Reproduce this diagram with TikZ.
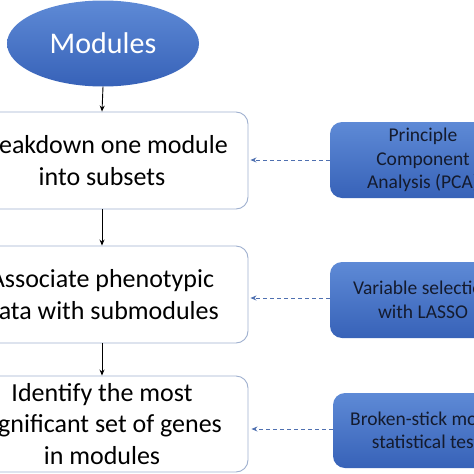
\documentclass[tikz,border=0pt]{standalone}
\usepackage{fontspec}
\setmainfont{Carlito}
\usetikzlibrary{arrows.meta,shapes.geometric}
\definecolor{offblue}{HTML}{4472C4}
\definecolor{lightblue}{HTML}{5E8AD6}
\definecolor{darkblue}{HTML}{3762B8}
\definecolor{boxedge}{HTML}{9FB0CF}
\definecolor{dashblue}{HTML}{4F70B0}
\definecolor{navytext}{HTML}{141B2E}
\tikzset{
  stepbox/.style={draw=boxedge, line width=0.9pt, rounded corners=12pt, fill=white,
    minimum width=292pt, minimum height=97pt, inner sep=0pt, align=center,
    font=\fontsize{26}{31.5}\selectfont, text=black},
  methodbox/.style={draw=none, rounded corners=12pt, top color=lightblue, bottom color=darkblue,
    minimum width=186pt, minimum height=76pt, inner sep=0pt, align=center,
    font=\fontsize{19.5}{23.5}\selectfont, text=navytext},
  flow/.style={black, line width=0.9pt, -{Stealth[length=6pt,width=5pt]}},
  hint/.style={dashblue, line width=0.9pt, dash pattern=on 4pt off 3pt, -{Stealth[length=6pt,width=5pt]}},
}
\begin{document}
\begin{tikzpicture}[x=1pt,y=-1pt]
\useasboundingbox (0,0) rectangle (474,474);
\clip (0,0) rectangle (474,474);
\node[ellipse, top color=lightblue, bottom color=darkblue, minimum width=192pt, minimum height=86pt,
  inner sep=0pt, text=white, font=\fontsize{30}{36}\selectfont] (mod) at (103,43.5) {Modules};
\node[stepbox] (b1) at (102,160.5) {Breakdown one module\\into subsets};
\node[stepbox] (b2) at (102,294.5) {Associate phenotypic\\data with submodules};
\node[stepbox, minimum height=96pt] (b3) at (102,424) {Identify the most\\significant set of genes\\in modules};
\node[methodbox] (r1) at (423,160) {Principle\\Component\\Analysis (PCA)};
\node[methodbox] (r2) at (423,300) {Variable selection\\with LASSO};
\node[methodbox, minimum height=75pt] (r3) at (426,430.5) {Broken-stick model\\statistical test};
\draw[flow] (mod.south) -- (b1.north);
\draw[flow] (b1.south) -- (b2.north);
\draw[flow] (b2.south) -- (b3.north);
\draw[hint, shorten >=2pt] (r1.west) -- (r1.west -| b1.east);
\draw[hint, shorten >=2pt] ([yshift=2pt]r2.west) -- ([yshift=2pt]r2.west -| b2.east);
\draw[hint, shorten >=3pt] ([yshift=1.5pt]r3.west) -- ([yshift=1.5pt]r3.west -| b3.east);
\end{tikzpicture}
\end{document}
